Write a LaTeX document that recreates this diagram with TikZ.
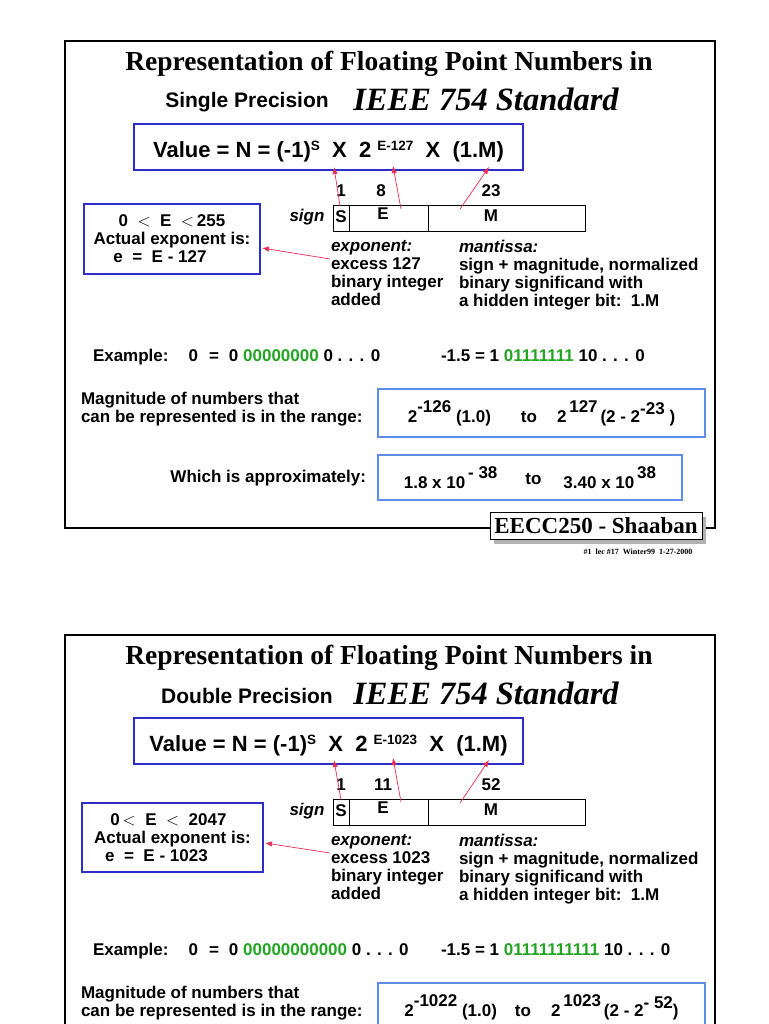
\documentclass[tikz,border=0pt]{standalone}
\usepackage{fontspec}
\setmainfont{Liberation Sans}
\newfontfamily\slidefont{Liberation Serif}
\usetikzlibrary{arrows.meta}
\usetikzlibrary{shadows}

\definecolor{boxblue}{RGB}{45,45,200}
\definecolor{rangeblue}{RGB}{95,140,230}
\definecolor{arrowred}{RGB}{232,45,85}
\definecolor{bitgreen}{RGB}{35,165,35}

\newcommand{\hi}[2][7pt]{\raisebox{#1}{#2}}
\newcommand{\sml}[1]{{\fontsize{13.5}{13.5}\selectfont #1}}
\newcommand{\bits}[1]{\textcolor{bitgreen}{#1}}

\begin{document}
\begin{tikzpicture}[
        x=1pt, y=-1pt,
        every node/.style={inner sep=0pt, outer sep=0pt},
        slideframe/.style={draw=black, line width=1.3pt},
        slidetitle/.style={font=\slidefont\bfseries\fontsize{27.5}{27.5}\selectfont},
        subtitle/.style={font=\bfseries\fontsize{21}{21}\selectfont},
        standard/.style={font=\slidefont\bfseries\itshape\fontsize{32.5}{32.5}\selectfont},
        body/.style={font=\bfseries\fontsize{17}{18}\selectfont, align=left},
        note/.style={font=\bfseries\itshape\fontsize{17}{18}\selectfont},
        valuebox/.style={draw=boxblue, line width=1.1pt, minimum width=389, minimum height=46,
            font=\bfseries\fontsize{22}{22}\selectfont},
        expbox/.style={draw=boxblue, line width=1.6pt, align=center,
            font=\bfseries\fontsize{17}{18}\selectfont},
        rangebox/.style={draw=rangeblue, line width=2.2pt, font=\bfseries\fontsize{17}{18}\selectfont},
        cell/.style={draw, line width=0.8pt, minimum height=26},
        pointer/.style={draw=arrowred, line width=0.7pt, -{Latex[length=7pt, width=5.5pt]}},
        tagbox/.style={draw, line width=1pt, fill=white, minimum width=212, minimum height=27,
            font=\slidefont\bfseries\fontsize{23}{23}\selectfont,
            drop shadow={shadow xshift=4pt, shadow yshift=-4pt, fill=gray!60, opacity=1}},
        tiny/.style={font=\slidefont\bfseries\fontsize{8}{8}\selectfont}
    ]

    \useasboundingbox (0,0) rectangle (768,1024);
    \clip (0,0) rectangle (768,1024);
    \fill[white] (0,0) rectangle (768,1024);

    % single precision
    \draw[slideframe] (65,41) rectangle (715,528);
    \node[slidetitle] (t1) at (389,64) {Representation of Floating Point Numbers in};
    \node[subtitle] (sp1) at (247,102) {Single Precision};
    \node[standard] (std1) at (486,99) {IEEE 754 Standard};

    \node[valuebox] (val1) at (328.5,147)
        {\rule{0pt}{25pt}Value = N = (-1)\hi{\sml{S}}\ \ X\ \ 2 \hi{\sml{E-127}}\ \ X\ \ (1.M)};
    \coordinate (tipS1) at (334,167);
    \coordinate (tipE1) at (393,166);
    \coordinate (tipM1) at (489,167);

    \node[cell, minimum width=16] (s1) at (341,218) {};
    \node[cell, minimum width=79] (e1) at (388.5,218) {};
    \node[cell, minimum width=157] (m1) at (506.5,218) {};
    \node[body] (sl1) at (341,217) {S};
    \node[body] (el1) at (383,214) {E};
    \node[body] (ml1) at (491,216) {M};
    \node[body] (n1a) at (341,191) {1};
    \node[body] (n1b) at (381,191) {8};
    \node[body] (n1c) at (491,191) {23};
    \node[note] (sign1) at (307,217) {sign};

    \coordinate (fromS1) at (340,206);
    \coordinate (fromE1) at (401,209);
    \coordinate (fromM1) at (460,209);
    \draw[pointer] (fromS1) -- (tipS1);
    \draw[pointer] (fromE1) -- (tipE1);
    \draw[pointer] (fromM1) -- (tipM1);

    \node[expbox, minimum width=176, minimum height=70] (ex1) at (172,239)
        {0 \ $<$\ \ E \ $<$\,255\\Actual exponent is:\\e \ =\ \ E - 127\rule{24pt}{0pt}};
    \coordinate (fromX1) at (330,259);
    \coordinate (tipX1) at (262,248);
    \draw[pointer] (fromX1) -- (tipX1);

    \node[body, anchor=north west] (expo1) at (331,240)
        {\textit{exponent:}\\excess 127\\binary integer\\added};
    \node[body, anchor=north west] (mant1) at (459,240)
        {\textit{mantissa:}\\sign + magnitude, normalized\\binary significand with\\a hidden integer bit:\ \ 1.M};

    \node[body, anchor=base west] (exa1) at (93,361)
        {Example:\hspace{20pt}0\hspace{11pt}=\hspace{10pt}0 \bits{00000000} 0 . . . 0};
    \node[body, anchor=base west] (exb1) at (441,361)
        {-1.5 = 1 \bits{01111111} 10 . . . 0};

    \node[body, anchor=north west] (mag1) at (81,392)
        {Magnitude of numbers that\\can be represented is in the range:};
    \node[rangebox, minimum width=327, minimum height=48] (rng1) at (541.5,413)
        {2\hi[10pt]{-126}\ (1.0)\hspace{30pt}to\hspace{20pt}2\hi[10pt]{\,127}\,(2 - 2\hi[8pt]{-23}\ )};

    \node[body, anchor=base east] (apx1) at (366,482) {Which is approximately:};
    \node[rangebox, minimum width=304, minimum height=45] (rngb1) at (530,477.5)
        {\raisebox{-4pt}{1.8 x 10}\hi[6pt]{\,- 38}\hspace{28pt}to\hspace{22pt}\raisebox{-4pt}{3.40 x 10}\hi[6pt]{\,38}};

    \node[tagbox] (tag1) at (596,526) {EECC250 - Shaaban};
    \node[tiny] (foot1) at (638,552) {\#1\ \ lec \#17\ \ Winter99\ \ 1-27-2000};

    % double precision
    \draw[slideframe] (65,635) rectangle (715,1100);
    \node[slidetitle] (t2) at (389,658) {Representation of Floating Point Numbers in};
    \node[subtitle] (sp2) at (247,696) {Double Precision};
    \node[standard] (std2) at (486,693) {IEEE 754 Standard};

    \node[valuebox] (val2) at (328.5,741)
        {\rule{0pt}{25pt}Value = N = (-1)\hi{\sml{S}}\ \ X\ \ 2 \hi{\sml{E-1023}}\ \ X\ \ (1.M)};
    \coordinate (tipS2) at (334,760);
    \coordinate (tipE2) at (393,758);
    \coordinate (tipM2) at (489,760);

    \node[cell, minimum width=16] (s2) at (341,812) {};
    \node[cell, minimum width=79] (e2) at (388.5,812) {};
    \node[cell, minimum width=157] (m2) at (506.5,812) {};
    \node[body] (sl2) at (341,811) {S};
    \node[body] (el2) at (383,808) {E};
    \node[body] (ml2) at (491,810) {M};
    \node[body] (n2a) at (341,785) {1};
    \node[body] (n2b) at (383,785) {11};
    \node[body] (n2c) at (491,785) {52};
    \node[note] (sign2) at (307,811) {sign};

    \coordinate (fromS2) at (341,800);
    \coordinate (fromE2) at (401,802);
    \coordinate (fromM2) at (460,803);
    \draw[pointer] (fromS2) -- (tipS2);
    \draw[pointer] (fromE2) -- (tipE2);
    \draw[pointer] (fromM2) -- (tipM2);

    \node[expbox, minimum width=181, minimum height=69] (ex2) at (172.5,837.5)
        {0\,$<$\ \ E \ $<$\ \ 2047\rule{8pt}{0pt}\\Actual exponent is:\\e \ =\ \ E - 1023\rule{32pt}{0pt}};
    \coordinate (fromX2) at (330,853);
    \coordinate (tipX2) at (265,843);
    \draw[pointer] (fromX2) -- (tipX2);

    \node[body, anchor=north west] (expo2) at (331,834)
        {\textit{exponent:}\\excess 1023\\binary integer\\added};
    \node[body, anchor=north west] (mant2) at (459,834)
        {\textit{mantissa:}\\sign + magnitude, normalized\\binary significand with\\a hidden integer bit:\ \ 1.M};

    \node[body, anchor=base west] (exa2) at (93,955)
        {Example:\hspace{20pt}0\hspace{11pt}=\hspace{10pt}0 \bits{00000000000} 0 . . . 0};
    \node[body, anchor=base west] (exb2) at (441,955)
        {-1.5 = 1 \bits{01111111111} 10 . . . 0};

    \node[body, anchor=north west] (mag2) at (81,986)
        {Magnitude of numbers that\\can be represented is in the range:};
    \node[rangebox, minimum width=327, minimum height=48] (rng2) at (541.5,1007)
        {2\hi[10pt]{-1022}\ (1.0)\hspace{18pt}to\hspace{20pt}2\hi[10pt]{\,1023}\,(2 - 2\hi[8pt]{- 52})};

\end{tikzpicture}
\end{document}
